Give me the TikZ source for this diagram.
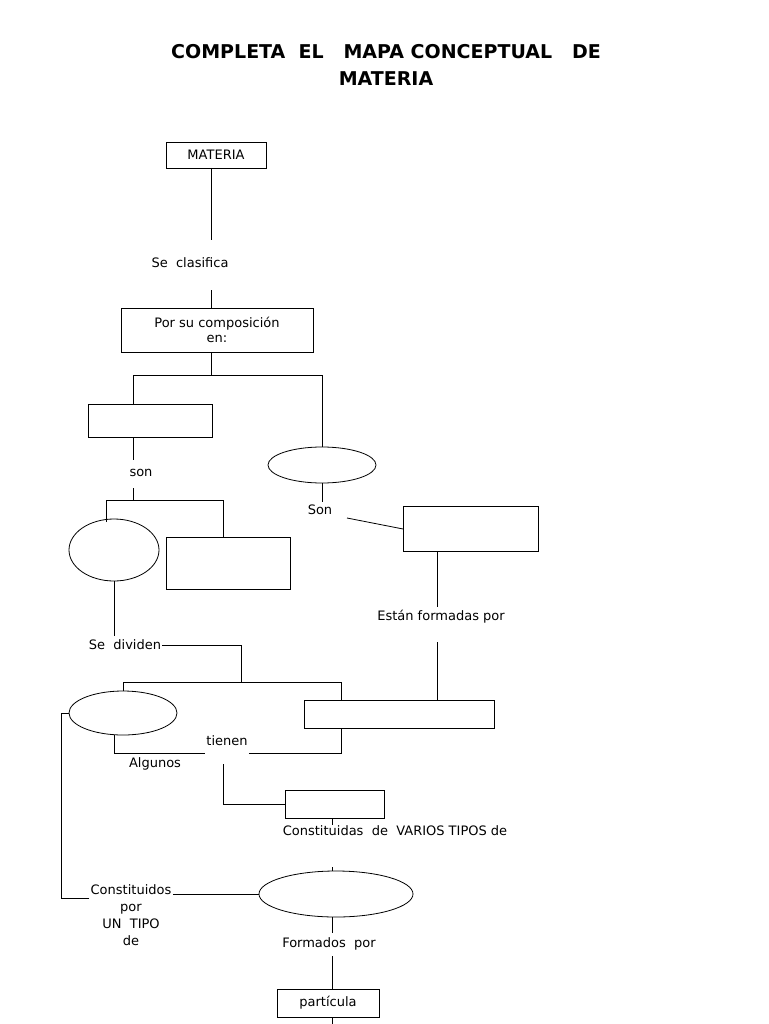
\documentclass[tikz,border=0pt]{standalone}
\usepackage{fontspec}
\setmainfont{DejaVu Sans}
\usetikzlibrary{shapes.geometric}

\begin{document}
\begin{tikzpicture}[x=1pt,y=-1pt,line width=0.8pt,
  box/.style={draw,rectangle,inner sep=0pt},
  oval/.style={draw,ellipse,inner sep=0pt},
  lbl/.style={inner sep=1pt,font=\fontsize{13}{15}\selectfont,align=center}]
  \useasboundingbox (0,0) rectangle (768,1024);
  \node[font=\bfseries\fontsize{19}{27}\selectfont,align=center] (title) at (386,65)
       {COMPLETA\ \ EL\ \ \ MAPA CONCEPTUAL\ \ \ DE\\MATERIA};

  \node[box,minimum width=100,minimum height=26,lbl] (mat) at (216,155) {MATERIA};
  \node[lbl] (clas) at (190,263) {Se\ \ clasifica};
  \node[box,minimum width=192,minimum height=44,lbl] (comp) at (217,330) {Por su composición\\en:};
  \node[box,minimum width=124,minimum height=33] (b1) at (150,421) {};
  \node[oval,minimum width=108,minimum height=36] (e1) at (322,465) {};
  \node[lbl] (son) at (141,473) {son};
  \node[oval,minimum width=90,minimum height=62] (e2) at (114,550) {};
  \node[box,minimum width=124,minimum height=52] (b2) at (228,563) {};
  \node[lbl] (Son) at (320,510) {Son};
  \node[box,minimum width=135,minimum height=45] (b3) at (471,529) {};
  \node[lbl] (estan) at (441,617) {Están formadas por};
  \node[lbl] (divid) at (125,645) {Se\ \ dividen};
  \node[oval,minimum width=108,minimum height=44] (e3) at (123,713) {};
  \node[box,minimum width=190,minimum height=28] (b4) at (399,714) {};
  \node[lbl] (tien) at (227,741) {tienen};
  \node[lbl] (alg) at (155,764) {Algunos};
  \node[box,minimum width=99,minimum height=28] (b5) at (335,804) {};
  \node[lbl] (varios) at (395,831) {Constituidas\ \ de\ \ VARIOS TIPOS de};
  \node[oval,minimum width=154,minimum height=46] (e4) at (336,894) {};
  \node[lbl,font=\fontsize{13}{17}\selectfont] (uno) at (131,915) {Constituidos\\por\\UN\ \ TIPO\\de};
  \node[lbl] (form) at (329,944) {Formados\ \ por};
  \node[box,minimum width=102,minimum height=28,lbl] (part) at (328,1003) {partícula};

  \coordinate (c1) at (211,375);
  \coordinate (c2) at (133,500);
  \coordinate (c3) at (241,682);
  \coordinate (c4) at (114,753);
  \coordinate (c5) at (341,753);
  \coordinate (c6) at (61,898);
  \coordinate (c7) at (332,1024);

  \draw (211,168) -- (211,240);
  \draw (211,290) -- (211,308);
  \draw (c1) -- (211,352);
  \draw (133,405) |- (322,375) -- (322,447);
  \draw (133,438) -- (133,460);
  \draw (133,488) -- (c2);
  \draw (106,522) |- (223,500) -- (223,537);
  \draw (114,581) -- (114,636);
  \draw (divid.east) -| (c3);
  \draw (123,691) |- (341,682) -- (341,700);
  \draw (322,483) -- (322,502);
  \draw (347,518) -- (b3.west);
  \draw (437,552) -- (437,607);
  \draw (437,642) -- (437,700);
  \draw (114,735) |- (tien.west |- c4);
  \draw (tien.east |- c5) -- (c5) -- (341,728);
  \draw (223,764) |- (b5.west);
  \draw (332,818) -- (332,825);
  \draw (332,867) -- (332,871);
  \draw (e4.west) -- (uno.east |- e4.west);
  \draw (uno.west |- c6) -- (c6) |- (e3.west);
  \draw (332,917) -- (332,933);
  \draw (332,956) -- (332,989);
  \draw (332,1017) -- (c7);
\end{tikzpicture}
\end{document}
